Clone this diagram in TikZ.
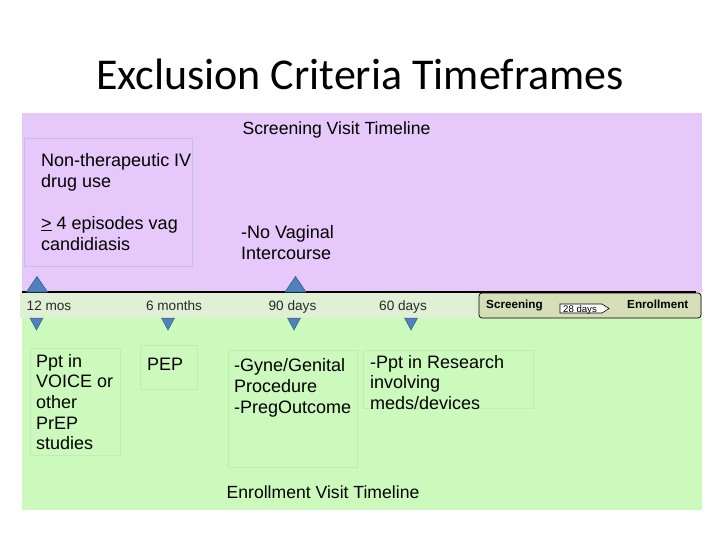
\documentclass[tikz,border=0pt]{standalone}
\usepackage{fontspec}
\setmainfont{Liberation Sans}
\newfontfamily\titlefont{Carlito}
\definecolor{purp}{RGB}{230,200,250}
\definecolor{grn}{RGB}{204,250,188}
\definecolor{strip}{RGB}{224,240,212}
\definecolor{khaki}{RGB}{214,222,184}
\definecolor{tri}{RGB}{79,129,189}
\definecolor{triedge}{RGB}{56,93,138}
\definecolor{boxtop}{RGB}{196,190,236}
\definecolor{boxlow}{RGB}{194,236,182}
\definecolor{lblgray}{RGB}{40,40,40}
\begin{document}
\begin{tikzpicture}[x=1pt,y=-1pt,
  body/.style={anchor=north west, inner sep=0pt, align=left, font=\fontsize{18}{21}\selectfont},
  bodylow/.style={anchor=north west, inner sep=0pt, align=left, font=\fontsize{18}{20.7}\selectfont},
  heading/.style={anchor=base, inner sep=0pt, font=\fontsize{17.6}{21}\selectfont},
  tick/.style={anchor=base, inner sep=0pt, text=lblgray, font=\fontsize{13.6}{16}\selectfont},
  tickbold/.style={anchor=base west, inner sep=0pt, font=\bfseries\fontsize{11.7}{14}\selectfont},
  upmark/.style={fill=tri, draw=triedge, line width=0.6pt},
  downmark/.style={fill=tri, draw=triedge, line width=0.5pt},
  topbox/.style={draw=boxtop, line width=0.8pt},
  lowbox/.style={draw=boxlow, line width=0.8pt}
]
\useasboundingbox (0,0) rectangle (720,540);
\fill[white] (0,0) rectangle (720,540);

% title
\node[anchor=base, inner sep=0pt, font=\titlefont\fontsize{44}{50}\selectfont] (title) at (360,90) {Exclusion Criteria Timeframes};

% backgrounds
\fill[purp] (22,113) rectangle (702,292);
\fill[strip] (20,292) rectangle (702,318);
\fill[grn] (22,318) rectangle (702,510);

% screening / enrollment box
\draw[fill=khaki, rounded corners=3pt, line width=0.7pt] (479,293) rectangle (701,318);
\node[tickbold] (scr) at (486,308.5) {Screening};
\node[tickbold] (enr) at (627,308.5) {Enrollment};
\draw[fill=white, line width=0.6pt] (560,304) -- (602,304) -- (609,308.5) -- (602,313) -- (560,313) -- cycle;
\node[anchor=base west, inner sep=0pt, font=\fontsize{9.6}{11}\selectfont] (d28) at (563,312.3) {28 days};

% timeline
\draw[line width=2.2pt] (22,292) -- (696,292);

% up triangles
\draw[upmark] (26.5,292) -- (37,276.5) -- (47.5,292) -- cycle;
\draw[upmark] (285,292) -- (295.5,276.5) -- (306,292) -- cycle;

% tick labels
\node[tick] (t12) at (49,310) {12 mos};
\node[tick] (t6) at (174,310) {6 months};
\node[tick] (t90) at (292.5,310) {90 days};
\node[tick] (t60) at (403,310) {60 days};

% down triangles
\foreach \cx in {36.5,168,294,411}{
  \draw[downmark] (\cx-6.5,318) -- (\cx+6.5,318) -- (\cx,330) -- cycle;
}

% headings
\node[heading] (sv) at (336.5,135) {Screening Visit Timeline};
\node[heading] (ev) at (323,498) {Enrollment Visit Timeline};

% top-left box
\draw[topbox] (24,138) rectangle (192,266);
\node[body] (ivdrug) at (41,151.3) {\strut Non-therapeutic IV\\drug use};
\node[body] (vag) at (41,214.3) {\strut \underline{>} 4 episodes vag\\candidiasis};
\node[body] (novag) at (241,223.3) {\strut -No Vaginal\\Intercourse};

% lower boxes
\draw[lowbox] (30,348) rectangle (120.5,455);
\node[bodylow] (voice) at (36,352.5) {\strut Ppt in\\VOICE or\\other\\PrEP\\studies};
\draw[lowbox] (140,345) rectangle (197,389);
\node[bodylow] (pep) at (147,355.5) {\strut PEP};
\draw[lowbox] (228,350) rectangle (357,467);
\node[bodylow] (gyne) at (234,357) {\strut -Gyne/Genital\\Procedure\\-PregOutcome};
\draw[lowbox] (363,350) rectangle (533,408);
\node[bodylow] (res) at (370,353.5) {\strut -Ppt in Research\\involving\\meds/devices};
\end{tikzpicture}
\end{document}
